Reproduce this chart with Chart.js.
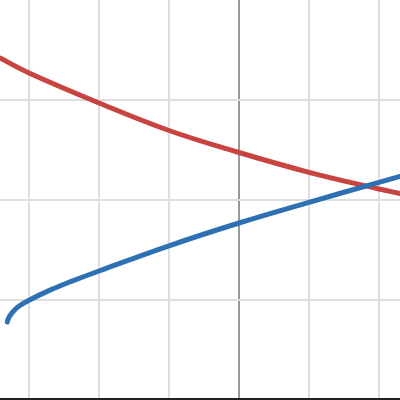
<!DOCTYPE html>
<html>
<head>
<meta charset="utf-8">
<script src="https://cdn.jsdelivr.net/npm/chart.js@4"></script>
<style>
  html, body { margin: 0; padding: 0; background: #fff; }
  canvas { display: block; }
</style>
</head>
<body>
<canvas id="myChart" width="400" height="400"></canvas>
<script>
// curve samples
const blueX = [-3.31, -3.30, -3.271, -3.2, -3.129, -3.0, -2.7, -2.414, -2.0, -1.0, 0, 1.0, 2.0, 2.3];
const blueY = [0.78, 0.805, 0.845, 0.905, 0.945, 0.998, 1.099, 1.181, 1.29, 1.542, 1.77, 1.977, 2.177, 2.235];

const redX = [-3.414, -3.0, -2.0, -1.0, 0, 1.0, 2.0, 2.3];
const redY = [3.42, 3.27, 2.97, 2.695, 2.475, 2.277, 2.11, 2.065];

const xMin = -239 / 70;
const xMax = 161 / 70;

const toPoints = (xs, ys) => xs.map((x, i) => ({x: x, y: ys[i]}));

new Chart("myChart", {
  type: "scatter",
  data: {
    datasets: [{
      data: toPoints(blueX, blueY),
      showLine: true,
      borderColor: "#2d70b3",
      borderWidth: 5,
      borderCapStyle: "round",
      tension: 0.4,
      pointRadius: 0
    }, {
      data: toPoints(redX, redY),
      showLine: true,
      borderColor: "#c74440",
      borderWidth: 5,
      borderCapStyle: "round",
      tension: 0.4,
      pointRadius: 0
    }]
  },
  options: {
    responsive: false,
    animation: false,
    layout: {padding: 0},
    scales: {
      x: {
        type: "linear",
        min: xMin,
        max: xMax,
        ticks: {display: false, stepSize: 1, includeBounds: false},
        grid: {
          drawTicks: false,
          lineWidth: 2,
          color: ctx => ctx.tick.value === 0 ? "#999999" : "#dedede"
        },
        border: {display: false}
      },
      y: {
        min: 0,
        max: 4,
        ticks: {display: false, stepSize: 1},
        grid: {
          drawTicks: false,
          lineWidth: ctx => ctx.tick.value === 0 ? 4 : 2,
          color: ctx => ctx.tick.value === 0 ? "#222222" : (ctx.tick.value === 4 ? "rgba(0,0,0,0)" : "#dedede")
        },
        border: {display: false}
      }
    },
    plugins: {
      legend: {display: false},
      tooltip: {enabled: false}
    }
  }
});
</script>
</body>
</html>
